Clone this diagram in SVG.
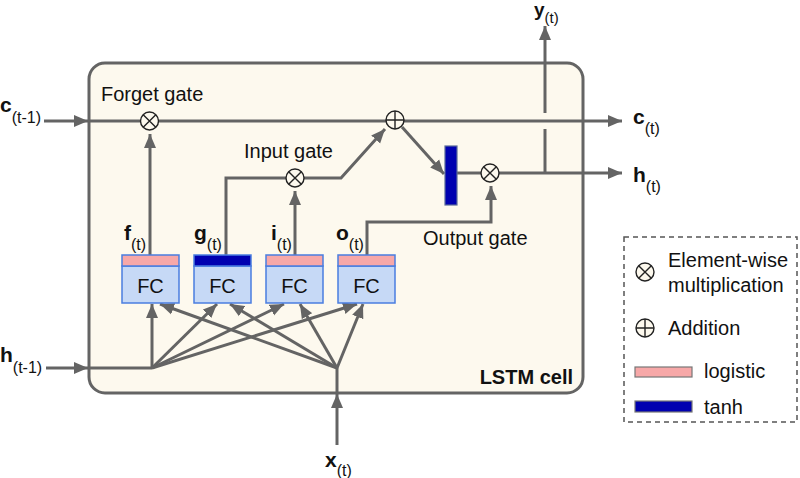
<svg xmlns="http://www.w3.org/2000/svg" width="800" height="478" viewBox="0 0 800 478">
<style>
text{font-family:"Liberation Sans",Arial,sans-serif;fill:#111}
.t{font-size:20px}
.b{font-size:21px;font-weight:bold}
.s{font-size:16px}
.ln{fill:none;stroke:#646464;stroke-width:3}
.op{fill:#fdf9ee;stroke:#222;stroke-width:1.4}
.opl{fill:none;stroke:#222;stroke-width:1.4}
.fc{fill:#c6d9f6;stroke:#4a7de0;stroke-width:1.5}
.pk{fill:#f7a8a8;stroke:#4a7de0;stroke-width:1.5}
.dk{fill:#0000b0;stroke:#4a7de0;stroke-width:1.5}
</style>
<defs>
<marker id="ar" markerUnits="userSpaceOnUse" markerWidth="15" markerHeight="13" refX="14" refY="6.5" orient="auto">
<path d="M0,0.5 L14,6.5 L0,12.5 Z" fill="#646464"/>
</marker>
<g id="mul"><circle r="9" class="op"/><path d="M-6.3,-6.3 L6.3,6.3 M-6.3,6.3 L6.3,-6.3" class="opl"/></g>
<g id="add"><circle r="9" class="op"/><path d="M-9,0 L9,0 M0,-9 L0,9" class="opl"/></g>
</defs>
<rect width="800" height="478" fill="#fff"/>
<g id="cell">
<rect x="89" y="63" width="494" height="330" rx="16" fill="#fdf9ee" stroke="#646464" stroke-width="3"/>
<text x="573" y="384" text-anchor="end" class="b" style="font-size:20px">LSTM cell</text>
</g>
<g id="connectors">
<path class="ln" d="M44,121 L88,121" marker-end="url(#ar)"/>
<path class="ln" d="M89,121 L622,121" marker-end="url(#ar)"/>
<path class="ln" d="M150,255 L150,134" marker-end="url(#ar)"/>
<path class="ln" d="M226,255 L226,178 L290,178"/>
<path class="ln" d="M295,255 L295,191" marker-end="url(#ar)"/>
<path class="ln" d="M300,178 L341,178 L385,129" marker-end="url(#ar)"/>
<path class="ln" d="M402,127 L444,174" marker-end="url(#ar)"/>
<path class="ln" d="M457,173 L485,173"/>
<path class="ln" d="M495,173 L622,173" marker-end="url(#ar)"/>
<path class="ln" d="M545,173 L545,129"/>
<path class="ln" d="M545,113 L545,26" marker-end="url(#ar)"/>
<path class="ln" d="M367,255 L367,222 L491,222 L491,186" marker-end="url(#ar)"/>
<path class="ln" d="M46,368 L88,368" marker-end="url(#ar)"/>
<path class="ln" d="M89,368 L152,368"/>
<path class="ln" d="M337,445 L337,394" marker-end="url(#ar)"/>
<path class="ln" d="M337,393 L337,368"/>
<path class="ln" d="M152,368 L152,304" marker-end="url(#ar)"/>
<path class="ln" d="M152,368 L217,304" marker-end="url(#ar)"/>
<path class="ln" d="M152,368 L284,304" marker-end="url(#ar)"/>
<path class="ln" d="M152,368 L357,304" marker-end="url(#ar)"/>
<path class="ln" d="M337,368 L160,304" marker-end="url(#ar)"/>
<path class="ln" d="M337,368 L230,304" marker-end="url(#ar)"/>
<path class="ln" d="M337,368 L300,304" marker-end="url(#ar)"/>
<path class="ln" d="M337,368 L363,304" marker-end="url(#ar)"/>
</g>
<g id="forget-gate">
<use href="#mul" x="149.5" y="121"/>
<text x="101" y="101" class="t">Forget gate</text>
</g>
<g id="input-gate">
<use href="#mul" x="295" y="178"/>
<text x="244" y="158" class="t">Input gate</text>
</g>
<g id="addition">
<use href="#add" x="395" y="120"/>
</g>
<g id="tanh-bar">
<rect x="445" y="146" width="12" height="59" fill="#0000b0" stroke="#5a6a9a" stroke-width="1.2"/>
</g>
<g id="output-gate">
<use href="#mul" x="490" y="173"/>
<text x="423" y="245" class="t">Output gate</text>
</g>
<g id="fc-f">
<rect x="122" y="266" width="57" height="37" class="fc"/>
<rect x="122" y="255" width="57" height="11" class="pk"/>
<text x="150.5" y="293" text-anchor="middle" class="t">FC</text>
<text x="124" y="240" class="b">f<tspan class="s" style="font-weight:normal" dy="10">(t)</tspan></text>
</g>
<g id="fc-g">
<rect x="194" y="266" width="57" height="37" class="fc"/>
<rect x="194" y="255" width="57" height="11" class="dk"/>
<text x="222.5" y="293" text-anchor="middle" class="t">FC</text>
<text x="194" y="240" class="b">g<tspan class="s" style="font-weight:normal" dy="10">(t)</tspan></text>
</g>
<g id="fc-i">
<rect x="266" y="266" width="57" height="37" class="fc"/>
<rect x="266" y="255" width="57" height="11" class="pk"/>
<text x="294.5" y="293" text-anchor="middle" class="t">FC</text>
<text x="271" y="240" class="b">i<tspan class="s" style="font-weight:normal" dy="10">(t)</tspan></text>
</g>
<g id="fc-o">
<rect x="338" y="266" width="57" height="37" class="fc"/>
<rect x="338" y="255" width="57" height="11" class="pk"/>
<text x="366.5" y="293" text-anchor="middle" class="t">FC</text>
<text x="336" y="240" class="b">o<tspan class="s" style="font-weight:normal" dy="10">(t)</tspan></text>
</g>
<g id="label-c-prev"><text x="0" y="112" class="b">c<tspan class="s" style="font-weight:normal" dy="11">(t-1)</tspan></text></g>
<g id="label-h-prev"><text x="0" y="362" class="b">h<tspan class="s" style="font-weight:normal" dy="11">(t-1)</tspan></text></g>
<g id="label-x"><text x="325" y="467" class="b">x<tspan class="s" style="font-weight:normal" dy="9">(t)</tspan></text></g>
<g id="label-c"><text x="633" y="124" class="b">c<tspan class="s" style="font-weight:normal" dy="10">(t)</tspan></text></g>
<g id="label-h"><text x="633" y="182" class="b">h<tspan class="s" style="font-weight:normal" dy="10">(t)</tspan></text></g>
<g id="label-y"><text x="534" y="16" class="b" style="font-size:19px">y<tspan class="s" style="font-weight:normal;font-size:15px" dy="7">(t)</tspan></text></g>
<g id="legend">
<rect x="624" y="237" width="173" height="185" fill="none" stroke="#555" stroke-width="1.5" stroke-dasharray="5,4"/>
<use href="#mul" x="645" y="272"/>
<text x="668" y="267" class="t">Element-wise</text>
<text x="668" y="292" class="t">multiplication</text>
<use href="#add" x="645" y="328"/>
<text x="668" y="335" class="t">Addition</text>
<rect x="635" y="367" width="57" height="10" fill="#f7a8a8" stroke="#777" stroke-width="1.2"/>
<text x="704" y="378" class="t">logistic</text>
<rect x="635" y="401" width="57" height="11" fill="#0000b0" stroke="#777" stroke-width="1.2"/>
<text x="704" y="414" class="t">tanh</text>
</g>
</svg>
